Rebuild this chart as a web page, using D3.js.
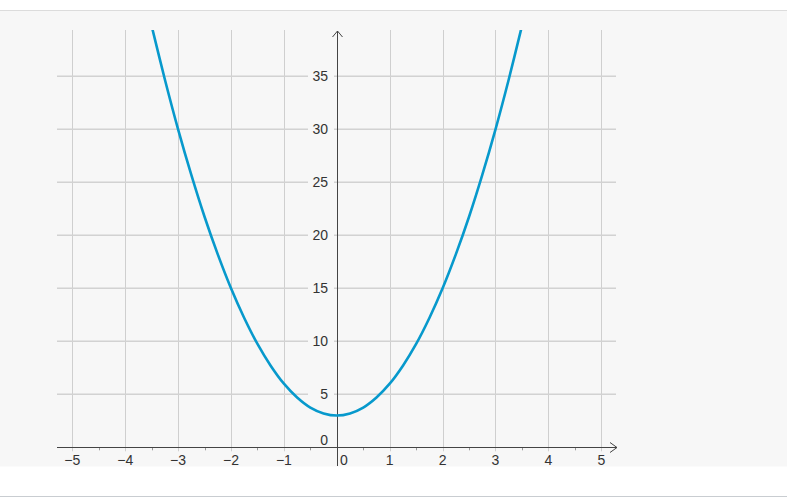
<!DOCTYPE html>
<html>
<head>
<meta charset="utf-8">
<title>y = 3x² + 3</title>
<script src="https://d3js.org/d3.v7.min.js"></script>
<style>
body { margin: 0; background: #fff; font-family: "Liberation Sans", Arial, sans-serif; }
svg text { fill: #333; font-size: 14px; }
</style>
</head>
<body>
<script>
// curve points
var xs = [-3.5, -3.25, -3, -2.75, -2.5, -2.25, -2, -1.75, -1.5, -1.25, -1, -0.75, -0.5, -0.25, 0,
          0.25, 0.5, 0.75, 1, 1.25, 1.5, 1.75, 2, 2.25, 2.5, 2.75, 3, 3.25, 3.5];
var ys = [39.75, 34.7, 30, 25.7, 21.75, 18.2, 15, 12.2, 9.75, 7.7, 6, 4.7, 3.75, 3.2, 3,
          3.2, 3.75, 4.7, 6, 7.7, 9.75, 12.2, 15, 18.2, 21.75, 25.7, 30, 34.7, 39.75];
var xTicks = [-5, -4, -3, -2, -1, 0, 1, 2, 3, 4, 5];
var yTicks = [0, 5, 10, 15, 20, 25, 30, 35];

var width = 787, height = 501;
var svg = d3.select("body").append("svg")
  .attr("width", width).attr("height", height);

// panel
svg.append("rect").attr("x", 0).attr("y", 10.5).attr("width", width).attr("height", 456)
  .attr("fill", "#f7f7f7");
svg.append("line").attr("x1", 0).attr("x2", width).attr("y1", 10.5).attr("y2", 10.5)
  .attr("stroke", "#dcdcdc");
svg.append("line").attr("x1", 0).attr("x2", width).attr("y1", 496.5).attr("y2", 496.5)
  .attr("stroke", "#c9cdd1");

var x = d3.scaleLinear().domain([-5, 5]).range([72.3, 601.3]);
var y = d3.scaleLinear().domain([0, 35]).range([447.3, 76.3]);

var topY = 30, leftX = 57, rightX = 616;

// vertical grid
svg.append("g").selectAll("line")
  .data(xTicks.filter(function(d) { return d !== 0; }))
  .enter().append("line")
  .attr("x1", function(d) { return Math.round(x(d)) + 0.5; })
  .attr("x2", function(d) { return Math.round(x(d)) + 0.5; })
  .attr("y1", topY).attr("y2", y(0) + 4)
  .attr("stroke", "#cfcfcf");

// horizontal grid
svg.append("g").selectAll("line")
  .data(yTicks.filter(function(d) { return d !== 0; }))
  .enter().append("line")
  .attr("x1", leftX).attr("x2", rightX)
  .attr("y1", function(d) { return y(d); })
  .attr("y2", function(d) { return y(d); })
  .attr("stroke", "#d2d2d2").attr("stroke-width", 1.6);

// minor ticks on x axis
var halves = d3.range(-4.5, 5, 1);
svg.append("g").selectAll("line")
  .data(halves).enter().append("line")
  .attr("x1", function(d) { return Math.round(x(d)) + 0.5; })
  .attr("x2", function(d) { return Math.round(x(d)) + 0.5; })
  .attr("y1", y(0)).attr("y2", y(0) + 3)
  .attr("stroke", "#999");

// y labels with backing
var yl = svg.append("g").selectAll("g")
  .data(yTicks.filter(function(d) { return d !== 0; }))
  .enter().append("g");
yl.append("rect")
  .attr("x", 308).attr("y", function(d) { return y(d) - 7; })
  .attr("width", 26).attr("height", 14).attr("fill", "#f7f7f7");
yl.append("text")
  .attr("x", 328).attr("y", function(d) { return y(d) + 5; })
  .attr("text-anchor", "end")
  .text(function(d) { return d; });
svg.append("text").attr("x", 328).attr("y", y(0) - 2).attr("text-anchor", "end").text("0");

// axes
var ax = svg.append("g").attr("stroke", "#444").attr("fill", "none");
var y0 = Math.round(y(0)) + 0.5;
ax.append("line").attr("x1", leftX).attr("x2", rightX + 1).attr("y1", y0).attr("y2", y0);
ax.append("path")
  .attr("d", "M" + (rightX - 6) + "," + (y0 - 5) + "L" + (rightX + 1) + "," + y0 + "L" + (rightX - 6) + "," + (y0 + 5));
var x0 = Math.round(x(0)) + 0.5;
ax.append("line").attr("x1", x0).attr("x2", x0).attr("y1", 31).attr("y2", 466);
ax.append("path")
  .attr("d", "M" + (x0 - 5) + ",37L" + x0 + ",31L" + (x0 + 5) + ",37");

// x labels
svg.append("g").selectAll("text")
  .data(xTicks).enter().append("text")
  .attr("x", function(d) { return d === 0 ? x(0) + 7 : x(d); })
  .attr("y", 465)
  .attr("text-anchor", "middle")
  .text(function(d) { return d < 0 ? "\u2212" + Math.abs(d) : d; });

// curve
svg.append("clipPath").attr("id", "clip")
  .append("rect").attr("x", leftX).attr("y", topY).attr("width", rightX - leftX).attr("height", 440);

var line = d3.line()
  .x(function(d, i) { return x(xs[i]); })
  .y(function(d, i) { return y(ys[i]); })
  .curve(d3.curveCatmullRom);

svg.append("path")
  .datum(xs)
  .attr("clip-path", "url(#clip)")
  .attr("d", line)
  .attr("fill", "none")
  .attr("stroke", "#0799cc")
  .attr("stroke-width", 2.6);
</script>
</body>
</html>
